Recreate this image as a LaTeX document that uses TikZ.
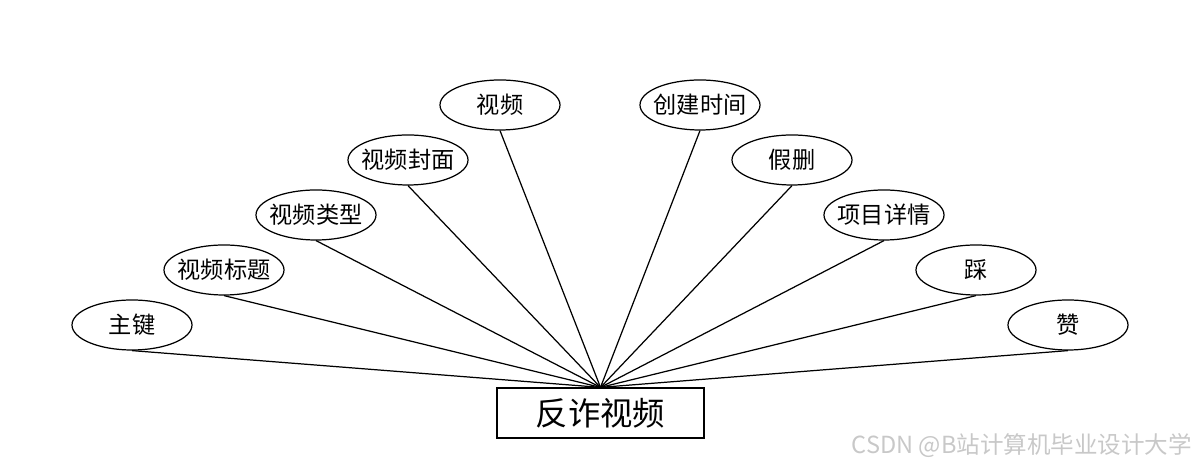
\documentclass[tikz,border=0pt]{standalone}
\usepackage{fontspec}
\usepackage{xcolor}
\usepackage{tikz}
\usetikzlibrary{positioning, shapes.geometric}
\newfontfamily\cjk{Noto Sans CJK SC}
\definecolor{markgray}{HTML}{C8C8C8}

\begin{document}
\begin{tikzpicture}[font=\cjk\fontsize{6.6}{7}\selectfont, line width=0.35pt,
    attr/.style={ellipse, draw, minimum width=1.2cm, minimum height=0.5cm,
      inner xsep=-1.6pt, inner ysep=0pt},
    entitybox/.style={rectangle, draw, minimum width=2.07cm, minimum height=0.5cm, inner sep=0pt,
      font=\cjk\fontsize{9.2}{10}\selectfont}]
  \useasboundingbox (0,0) rectangle (12,4.68);
  % Entita
  \node[entitybox] (entity) at (6.005,0.55) {反诈视频};
  % Atributy vlevo
  \foreach \name [count=\i from 0] in {主键, 视频标题, 视频类型, 视频封面, 视频} {
    \node[attr] (l\i) at (1.32+0.92*\i, 1.43+0.55*\i) {\name};
    \draw (l\i.south) -- (entity.north);
  }
  % Atributy vpravo
  \foreach \name [count=\j from 0] in {创建时间, 假删, 项目详情, 踩, 赞} {
    \node[attr] (r\j) at (7.00+0.92*\j, 3.63-0.55*\j) {\name};
    \draw (r\j.south) -- (entity.north);
  }
  % Vodoznak
  \node[text=markgray, font=\cjk\fontsize{6.7}{7}\selectfont] (mark) at (10.22,0.22) {CSDN @B站计算机毕业设计大学};
\end{tikzpicture}
\end{document}
